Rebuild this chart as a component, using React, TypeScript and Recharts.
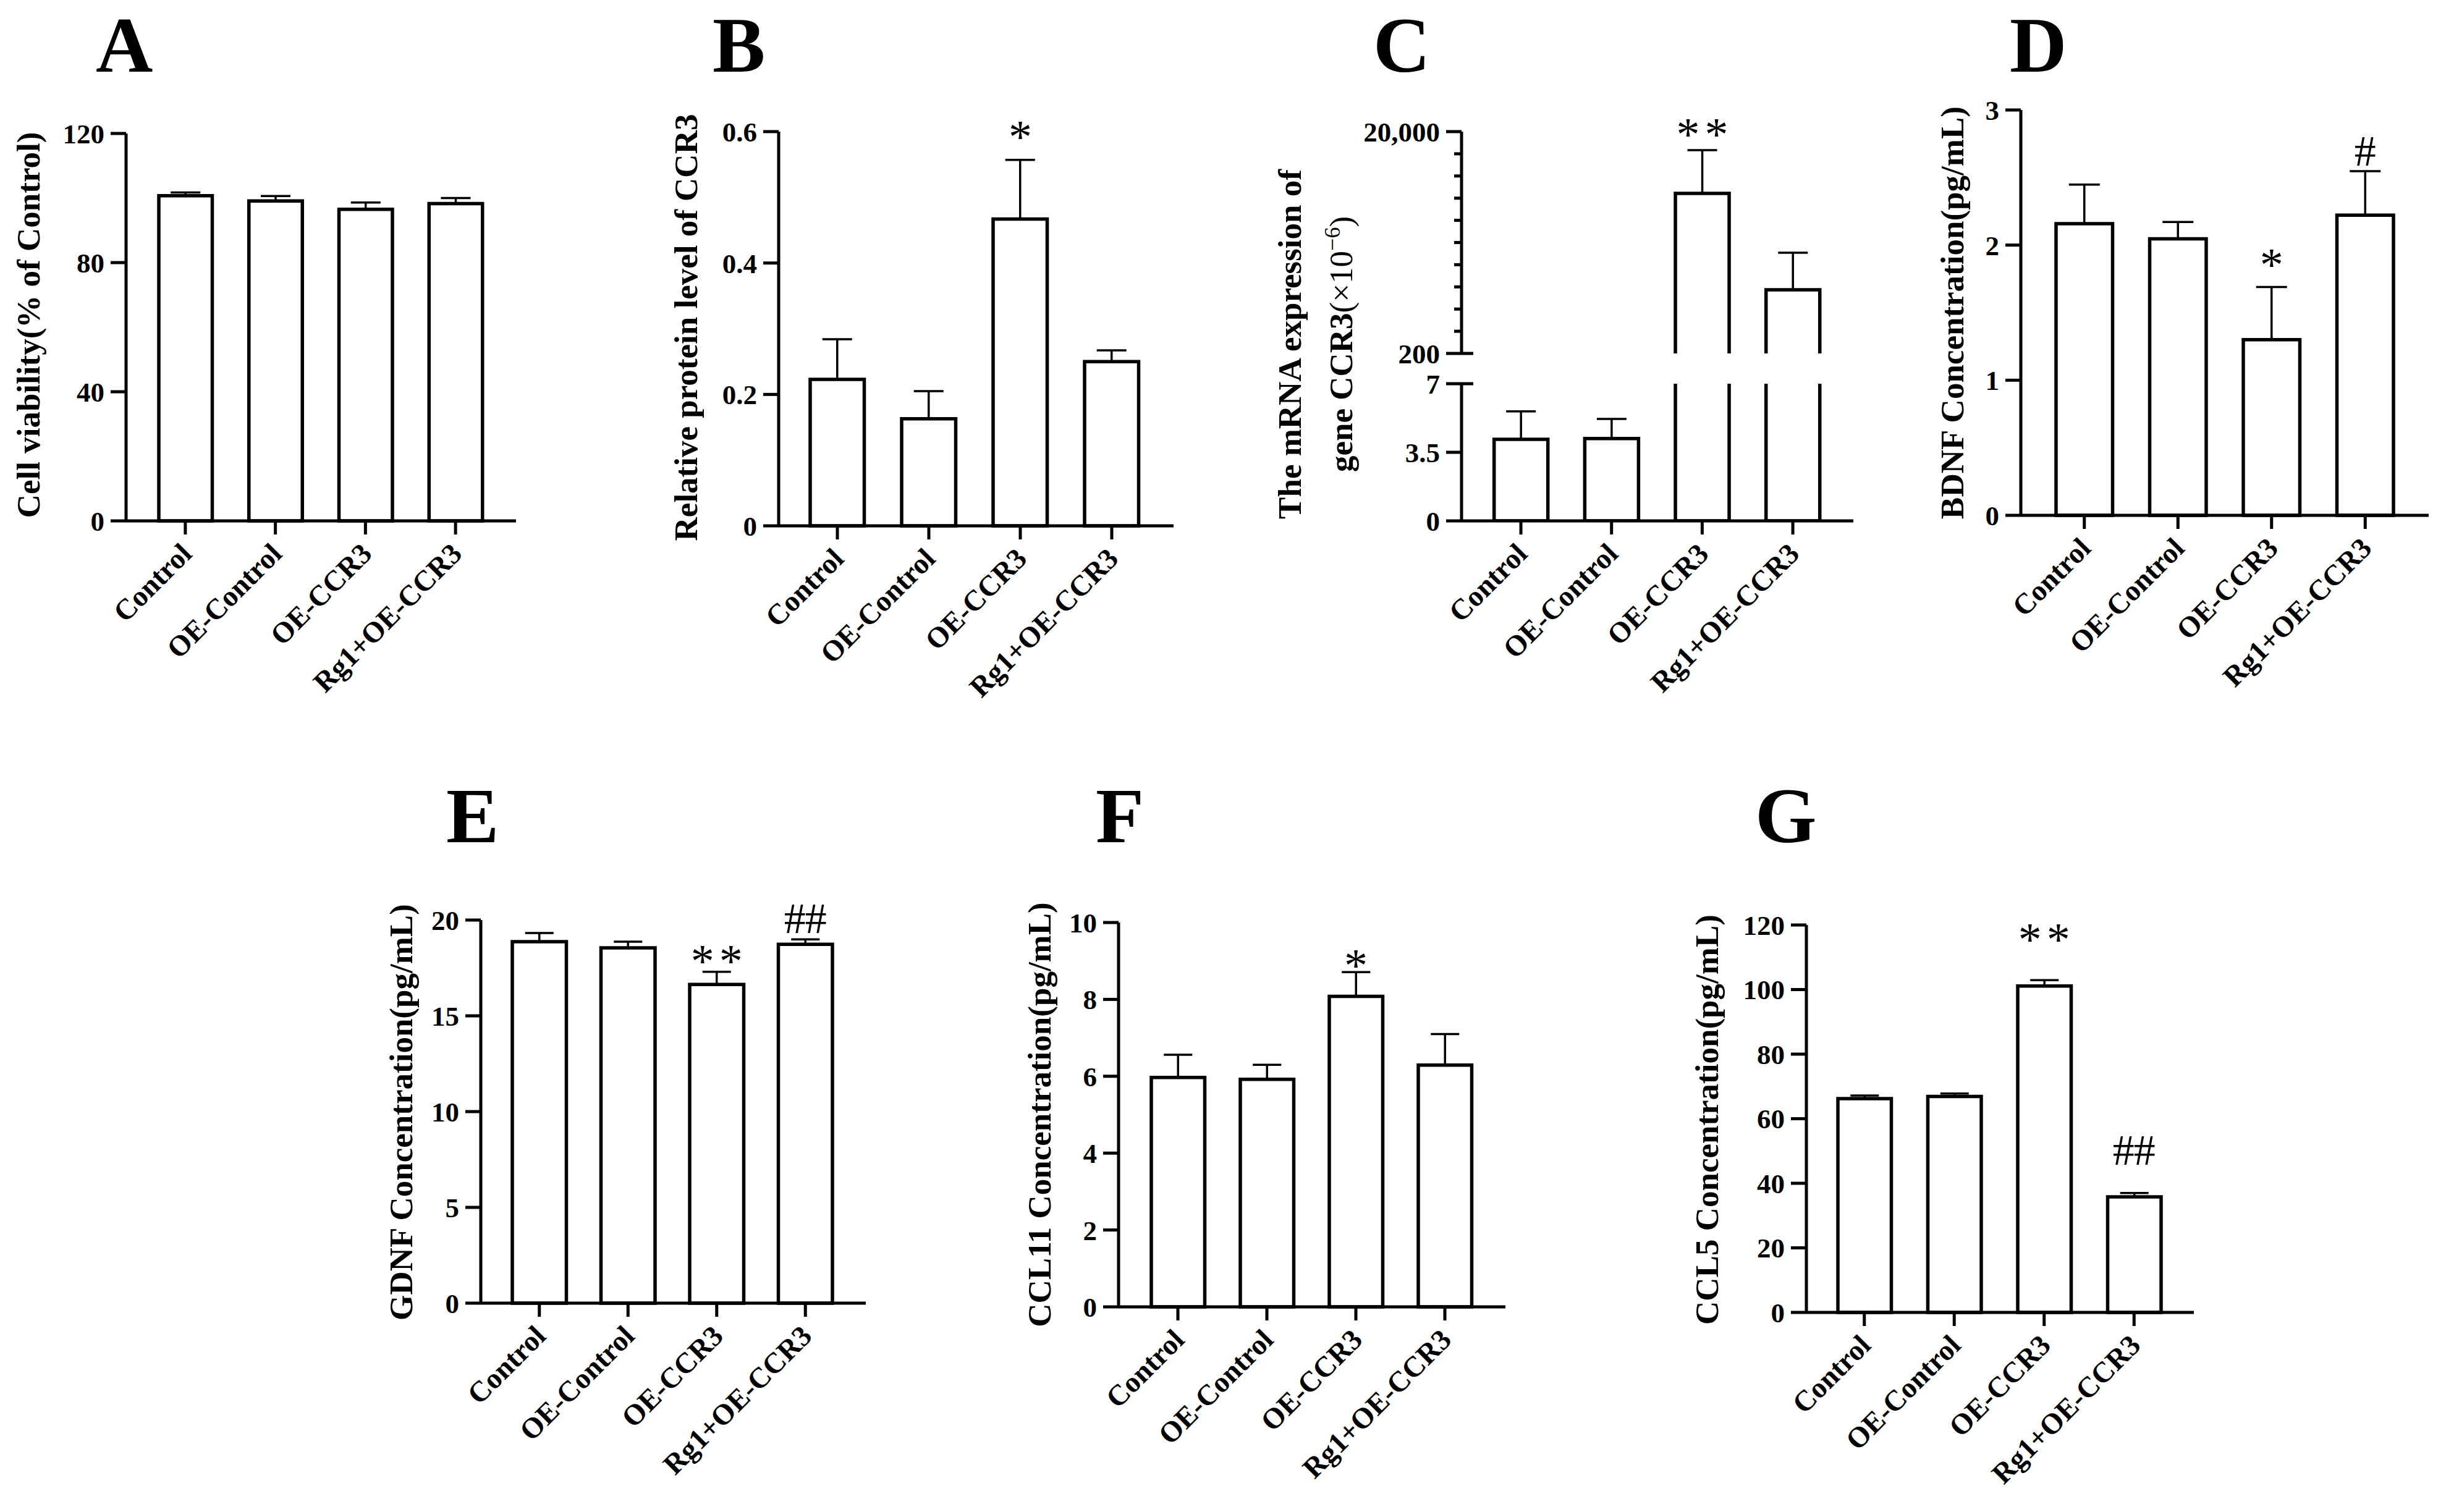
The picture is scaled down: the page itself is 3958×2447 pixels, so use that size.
import React from 'react';
import { ComposedChart, Bar, XAxis, YAxis, ErrorBar, Scatter } from 'recharts';

const groups = ['Control', 'OE-Control', 'OE-CCR3', 'Rg1+OE-CCR3'];

// A — cell viability
const viabilityMean = [100.7, 99.1, 96.5, 98.3];
const viabilitySem = [1.0, 1.5, 2.1, 1.7];
const viabilityTicks = [0, 40, 80, 120];

// B — CCR3 protein
const proteinMean = [0.223, 0.163, 0.467, 0.25];
const proteinSem = [0.061, 0.042, 0.09, 0.017];
const proteinTicks = [0, 0.2, 0.4, 0.6];
const proteinMarks = ['', '', '*', ''];

// C — CCR3 mRNA (broken axis)
const mrnaMean = [4.16, 4.2, 14485, 5880];
const mrnaSem = [1.43, 1.0, 3860, 3310];
const mrnaLowTicks = [0, 3.5, 7];
const mrnaHighTicks = [200, 2180, 4160, 6140, 8120, 10100, 12080, 14060, 16040, 18020, 20000];
const mrnaMarks = ['', '', '**', ''];

// D — BDNF
const bdnfMean = [2.158, 2.047, 1.3, 2.221];
const bdnfSem = [0.29, 0.124, 0.39, 0.326];
const bdnfTicks = [0, 1, 2, 3];
const bdnfMarks = ['', '', '*', '#'];

// E — GDNF
const gdnfMean = [18.87, 18.55, 16.64, 18.73];
const gdnfSem = [0.45, 0.32, 0.66, 0.26];
const gdnfTicks = [0, 5, 10, 15, 20];
const gdnfMarks = ['', '', '**', '##'];

// F — CCL11
const ccl11Mean = [5.97, 5.92, 8.08, 6.29];
const ccl11Sem = [0.59, 0.38, 0.63, 0.81];
const ccl11Ticks = [0, 2, 4, 6, 8, 10];
const ccl11Marks = ['', '', '*', ''];

// G — CCL5
const ccl5Mean = [66.2, 66.9, 101.1, 35.8];
const ccl5Sem = [1.0, 0.9, 1.8, 1.2];
const ccl5Ticks = [0, 20, 40, 60, 80, 100, 120];
const ccl5Marks = ['', '', '**', '##'];

const FONT = "'Liberation Serif', 'Times New Roman', Times, serif";
const Y_W = 200;
const M_TOP = 80;
const M_RIGHT = 40;
const X_H = 340;
const AXIS = { stroke: '#000', strokeWidth: 5 };

const buildRows = (mean: number[], sem: number[], marks: string[] = []) =>
  groups.map((name, i) => ({
    name,
    mean: mean[i],
    err: [0, sem[i]],
    mark: marks[i] || '',
    top: marks[i] ? mean[i] + sem[i] : null,
  }));

function SlantTick({ x, y, payload }: any) {
  const ax = x + 13;
  const ay = y + 34;
  return (
    <text x={ax} y={ay} transform={`rotate(-45 ${ax} ${ay})`} textAnchor="end"
      fontSize={47} fontWeight={700} fontFamily={FONT} fill="#000">
      {payload.value}
    </text>
  );
}

// significance symbols sit above the error cap
function Mark({ cx, cy, payload, lifts, index }: any) {
  if (!payload || !payload.mark) return null;
  const chars = payload.mark.split('');
  const star = chars[0] === '*';
  const pitch = star ? 46 : 34;
  const base = cy - (lifts[index] || 0);
  return (
    <g>
      {chars.map((c: string, k: number) => (
        <text key={k} x={cx + (k - (chars.length - 1) / 2) * pitch} y={base} textAnchor="middle"
          fontSize={star ? 76 : 70} fontFamily={FONT} fill="#000">{c}</text>
      ))}
    </g>
  );
}

function BarPanel({ rows, ticks, f, lifts }: any) {
  const plotW = f.right - f.axisX;
  const plotH = f.zero - f.top;
  return (
    <div style={{ position: 'absolute', left: f.axisX - Y_W, top: f.top - M_TOP }}>
      <ComposedChart width={Y_W + plotW + M_RIGHT} height={M_TOP + plotH + X_H} data={rows}
        margin={{ top: M_TOP, right: M_RIGHT, bottom: 0, left: 0 }}>
        <XAxis dataKey="name" type="category" interval={0} height={X_H}
          padding={{ left: f.padL, right: f.padR }} axisLine={AXIS} tickLine={AXIS}
          tickSize={22} tickMargin={0} tick={<SlantTick />} />
        <YAxis type="number" domain={[ticks[0], ticks[ticks.length - 1]]} ticks={ticks} interval={0}
          width={Y_W} axisLine={AXIS} tickLine={AXIS} tickSize={25} tickMargin={10}
          tick={{ fontSize: 45, fontWeight: 700, fill: '#000', fontFamily: FONT }} />
        <Bar dataKey="mean" barSize={f.bar} fill="#fff" stroke="#000" strokeWidth={5.5}
          isAnimationActive={false}>
          <ErrorBar dataKey="err" width={f.cap} stroke="#000" strokeWidth={3.5} direction="y" />
        </Bar>
        {lifts && (
          <Scatter dataKey="top" isAnimationActive={false}
            shape={(p: any) => <Mark {...p} lifts={lifts} />} />
        )}
      </ComposedChart>
    </div>
  );
}

// y ticks for the broken axis: minor ticks shorter, break ticks poke out to the right
function BreakTick({ y, payload, labels, breakAt }: any) {
  const v = payload.value;
  const label = labels[v];
  const len = label !== undefined ? 25 : 12;
  const ext = v === breakAt ? 19 : 0;
  return (
    <g>
      <line x1={Y_W - len} x2={Y_W + ext} y1={y} y2={y} stroke="#000" strokeWidth={5} />
      {label !== undefined && (
        <text x={Y_W - 35} y={y} dy="0.355em" textAnchor="end" fontSize={45} fontWeight={700}
          fontFamily={FONT} fill="#000">{label}</text>
      )}
    </g>
  );
}

const barPath = (x: number, y: number, w: number, h: number, open: 'top' | 'bottom' | null) => {
  if (open === 'top') return `M${x},${y} L${x},${y + h} L${x + w},${y + h} L${x + w},${y}`;
  if (open === 'bottom') return `M${x},${y + h} L${x},${y} L${x + w},${y} L${x + w},${y + h}`;
  return `M${x},${y} L${x},${y + h} L${x + w},${y + h} L${x + w},${y} Z`;
};

function MrnaPanel() {
  const f = { axisX: 2365, right: 2999, padL: 22.7, padR: 24.6, bar: 87, cap: 24 };
  const hiTop = 213;
  const hiBottom = 572;
  const loTop = 621;
  const zero = 843;
  const LO_M = 30;
  const HI_B = 40;
  const plotW = f.right - f.axisX;
  const loMax = mrnaLowTicks[mrnaLowTicks.length - 1];
  const hiMin = mrnaHighTicks[0];
  const hiMax = mrnaHighTicks[mrnaHighTicks.length - 1];

  const lowRows = groups.map((name, i) => ({
    name,
    mean: mrnaMean[i],
    err: mrnaMean[i] <= loMax ? [0, mrnaSem[i]] : null,
  }));
  const highRows = groups.map((name, i) => ({
    name,
    mean: mrnaMean[i] >= hiMin ? mrnaMean[i] : null,
    err: mrnaMean[i] >= hiMin ? [0, mrnaSem[i]] : null,
    mark: mrnaMarks[i],
    top: mrnaMarks[i] ? mrnaMean[i] + mrnaSem[i] : null,
  }));

  const hiLabels: Record<number, string> = { 200: '200', 20000: '20,000' };
  const loLabels: Record<number, string> = { 0: '0', 3.5: '3.5', 7: '7' };

  return (
    <>
      <div style={{ position: 'absolute', left: f.axisX - Y_W, top: hiTop - M_TOP }}>
        <ComposedChart width={Y_W + plotW + M_RIGHT} height={M_TOP + hiBottom - hiTop + HI_B} data={highRows}
          margin={{ top: M_TOP, right: M_RIGHT, bottom: HI_B, left: 0 }}>
          <XAxis dataKey="name" type="category" hide padding={{ left: f.padL, right: f.padR }} />
          <YAxis type="number" domain={[hiMin, hiMax]} ticks={mrnaHighTicks} interval={0}
            width={Y_W} axisLine={AXIS} tickLine={false}
            tick={(p: any) => <BreakTick {...p} labels={hiLabels} breakAt={hiMin} />} />
          <Bar dataKey="mean" barSize={f.bar} isAnimationActive={false}
            shape={(p: any) => (
              <g>
                <rect x={p.x} y={p.y} width={p.width} height={p.height} fill="#fff" />
                <path d={barPath(p.x, p.y, p.width, p.height, 'bottom')} fill="none" stroke="#000" strokeWidth={5.5} />
              </g>
            )}>
            <ErrorBar dataKey="err" width={f.cap} stroke="#000" strokeWidth={3.5} direction="y" />
          </Bar>
          <Scatter dataKey="top" isAnimationActive={false}
            shape={(p: any) => <Mark {...p} lifts={[0, 0, 0, 0]} />} />
        </ComposedChart>
      </div>
      <div style={{ position: 'absolute', left: f.axisX - Y_W, top: loTop - LO_M }}>
        <ComposedChart width={Y_W + plotW + M_RIGHT} height={LO_M + zero - loTop + X_H} data={lowRows}
          margin={{ top: LO_M, right: M_RIGHT, bottom: 0, left: 0 }}>
          <XAxis dataKey="name" type="category" interval={0} height={X_H}
            padding={{ left: f.padL, right: f.padR }} axisLine={AXIS} tickLine={AXIS}
            tickSize={22} tickMargin={0} tick={<SlantTick />} />
          <YAxis type="number" domain={[0, loMax]} ticks={mrnaLowTicks} interval={0} allowDataOverflow
            width={Y_W} axisLine={AXIS} tickLine={false}
            tick={(p: any) => <BreakTick {...p} labels={loLabels} breakAt={loMax} />} />
          <Bar dataKey="mean" barSize={f.bar} isAnimationActive={false}
            shape={(p: any) => {
              const clipped = p.y < LO_M;
              const y = clipped ? LO_M : p.y;
              const h = p.y + p.height - y;
              return (
                <g>
                  <rect x={p.x} y={y} width={p.width} height={h} fill="#fff" />
                  <path d={barPath(p.x, y, p.width, h, clipped ? 'top' : null)} fill="none" stroke="#000" strokeWidth={5.5} />
                </g>
              );
            }}>
            <ErrorBar dataKey="err" width={f.cap} stroke="#000" strokeWidth={3.5} direction="y" />
          </Bar>
        </ComposedChart>
      </div>
    </>
  );
}

const letters = [
  { t: 'A', x: 155, y: 116 },
  { t: 'B', x: 1153, y: 116 },
  { t: 'C', x: 2222, y: 116 },
  { t: 'D', x: 3252, y: 116 },
  { t: 'E', x: 722, y: 1363 },
  { t: 'F', x: 1773, y: 1363 },
  { t: 'G', x: 2840, y: 1363 },
];

const yTitles = [
  { t: 'Cell viability(% of Control)', x: 64, y: 526 },
  { t: 'Relative protein level of CCR3', x: 1128, y: 530 },
  { t: 'BDNF Concentration(pg/mL)', x: 3177, y: 506 },
  { t: 'GDNF Concentration(pg/mL)', x: 667, y: 1800 },
  { t: 'CCL11 Concentration(pg/mL)', x: 1700, y: 1804 },
  { t: 'CCL5 Concentration(pg/mL)', x: 2780, y: 1812 },
];

export default function App() {
  return (
    <div style={{ position: 'absolute', left: 0, top: 0, width: 3958, height: 2447, background: '#fff', overflow: 'hidden' }}>
      <svg width={3958} height={2447} style={{ position: 'absolute', left: 0, top: 0 }}>
        {letters.map((l) => (
          <text key={l.t} x={l.x} y={l.y} fontSize={128} fontWeight={700} fontFamily={FONT} fill="#000">{l.t}</text>
        ))}
        {yTitles.map((l) => (
          <text key={l.t} x={l.x} y={l.y} transform={`rotate(-90 ${l.x} ${l.y})`} textAnchor="middle"
            fontSize={53} fontWeight={700} fontFamily={FONT} fill="#000">{l.t}</text>
        ))}
        <text x={2105} y={557} transform="rotate(-90 2105 557)" textAnchor="middle"
          fontSize={53} fontWeight={700} fontFamily={FONT} fill="#000">The mRNA expression of</text>
        <text x={2188} y={557} transform="rotate(-90 2188 557)" textAnchor="middle"
          fontSize={53} fontFamily={FONT} fill="#000">
          <tspan fontWeight={700}>gene CCR3</tspan>
          <tspan>(×10</tspan>
          <tspan dy={-20} fontSize={36}>−6</tspan>
          <tspan dy={20}>)</tspan>
        </text>
      </svg>

      <BarPanel rows={buildRows(viabilityMean, viabilitySem)} ticks={viabilityTicks}
        f={{ axisX: 204, top: 216, zero: 843, right: 835, padL: 23, padR: 25, bar: 86.5, cap: 24 }} />
      <BarPanel rows={buildRows(proteinMean, proteinSem, proteinMarks)} ticks={proteinTicks}
        f={{ axisX: 1260, top: 213, zero: 851, right: 1899, padL: 21, padR: 26, bar: 87.5, cap: 24 }}
        lifts={[0, 0, 12, 0]} />
      <MrnaPanel />
      <BarPanel rows={buildRows(bdnfMean, bdnfSem, bdnfMarks)} ticks={bdnfTicks}
        f={{ axisX: 3270, top: 178, zero: 834, right: 3930, padL: 27, padR: 27, bar: 91.5, cap: 25 }}
        lifts={[0, 0, 10, 9]} />
      <BarPanel rows={buildRows(gdnfMean, gdnfSem, gdnfMarks)} ticks={gdnfTicks}
        f={{ axisX: 778, top: 1489, zero: 2109, right: 1401, padL: 23, padR: 26, bar: 87.5, cap: 23 }}
        lifts={[0, 0, -8, 10]} />
      <BarPanel rows={buildRows(ccl11Mean, ccl11Sem, ccl11Marks)} ticks={ccl11Ticks}
        f={{ axisX: 1810, top: 1493, zero: 2115, right: 2436, padL: 24, padR: 26, bar: 86.5, cap: 23 }}
        lifts={[0, 0, -15, 0]} />
      <BarPanel rows={buildRows(ccl5Mean, ccl5Sem, ccl5Marks)} ticks={ccl5Ticks}
        f={{ axisX: 2923, top: 1497, zero: 2124, right: 3550, padL: 21, padR: 24, bar: 86.5, cap: 23 }}
        lifts={[0, 0, 40, 46]} />
    </div>
  );
}
